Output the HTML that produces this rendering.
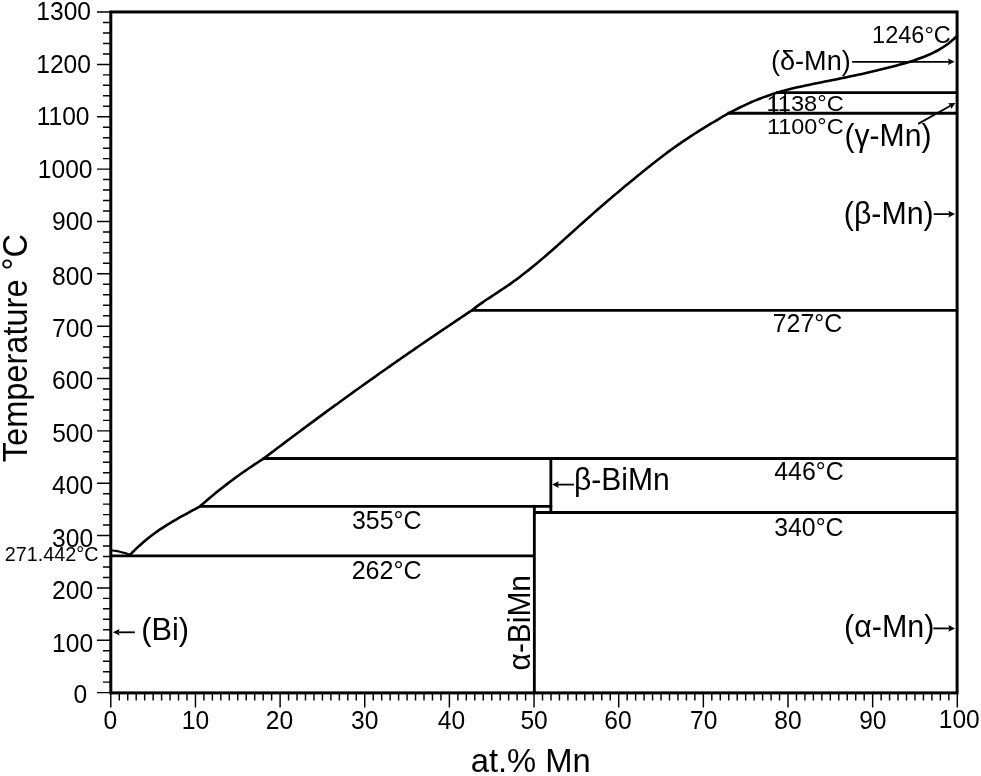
<!DOCTYPE html>
<html><head><meta charset="utf-8"><title>Bi-Mn phase diagram</title><style>
html,body{margin:0;padding:0;background:#fff;}
svg{display:block;}
text{font-family:'Liberation Sans',Arial,Helvetica,sans-serif;font-size:100px;fill:#000;}
</style></head><body>
<svg width="981" height="776" viewBox="0 0 981 776">
<rect width="981" height="776" fill="#fff"/>
<path d="M97,692.60H111 M103,682.13H111 M103,671.66H111 M103,661.19H111 M103,650.72H111 M97,640.25H111 M103,629.78H111 M103,619.31H111 M103,608.84H111 M103,598.37H111 M97,587.90H111 M103,577.43H111 M103,566.96H111 M103,556.49H111 M103,546.02H111 M97,535.55H111 M103,525.08H111 M103,514.61H111 M103,504.14H111 M103,493.67H111 M97,483.20H111 M103,472.73H111 M103,462.26H111 M103,451.79H111 M103,441.32H111 M97,430.85H111 M103,420.38H111 M103,409.91H111 M103,399.44H111 M103,388.97H111 M97,378.50H111 M103,368.03H111 M103,357.56H111 M103,347.09H111 M103,336.62H111 M97,326.15H111 M103,315.68H111 M103,305.21H111 M103,294.74H111 M103,284.27H111 M97,273.80H111 M103,263.33H111 M103,252.86H111 M103,242.39H111 M103,231.92H111 M97,221.45H111 M103,210.98H111 M103,200.51H111 M103,190.04H111 M103,179.57H111 M97,169.10H111 M103,158.63H111 M103,148.16H111 M103,137.69H111 M103,127.22H111 M97,116.75H111 M103,106.28H111 M103,95.81H111 M103,85.34H111 M103,74.87H111 M97,64.40H111 M103,53.93H111 M103,43.46H111 M103,32.99H111 M103,22.52H111 M97,12.05H111 M110.80,692V707.5 M119.27,692V700.6 M127.73,692V700.6 M136.19,692V700.6 M144.66,692V700.6 M153.12,692V700.6 M161.59,692V700.6 M170.06,692V700.6 M178.52,692V700.6 M186.99,692V700.6 M195.45,692V707.5 M203.91,692V700.6 M212.38,692V700.6 M220.84,692V700.6 M229.31,692V700.6 M237.77,692V700.6 M246.24,692V700.6 M254.70,692V700.6 M263.17,692V700.6 M271.63,692V700.6 M280.10,692V707.5 M288.56,692V700.6 M297.03,692V700.6 M305.50,692V700.6 M313.96,692V700.6 M322.43,692V700.6 M330.89,692V700.6 M339.36,692V700.6 M347.82,692V700.6 M356.29,692V700.6 M364.75,692V707.5 M373.22,692V700.6 M381.68,692V700.6 M390.15,692V700.6 M398.61,692V700.6 M407.07,692V700.6 M415.54,692V700.6 M424.00,692V700.6 M432.47,692V700.6 M440.94,692V700.6 M449.40,692V707.5 M457.87,692V700.6 M466.33,692V700.6 M474.80,692V700.6 M483.26,692V700.6 M491.73,692V700.6 M500.19,692V700.6 M508.66,692V700.6 M517.12,692V700.6 M525.59,692V700.6 M534.05,692V707.5 M542.51,692V700.6 M550.98,692V700.6 M559.44,692V700.6 M567.91,692V700.6 M576.38,692V700.6 M584.84,692V700.6 M593.30,692V700.6 M601.77,692V700.6 M610.24,692V700.6 M618.70,692V707.5 M627.16,692V700.6 M635.63,692V700.6 M644.09,692V700.6 M652.56,692V700.6 M661.02,692V700.6 M669.49,692V700.6 M677.95,692V700.6 M686.42,692V700.6 M694.88,692V700.6 M703.35,692V707.5 M711.81,692V700.6 M720.28,692V700.6 M728.75,692V700.6 M737.21,692V700.6 M745.67,692V700.6 M754.14,692V700.6 M762.60,692V700.6 M771.07,692V700.6 M779.53,692V700.6 M788.00,692V707.5 M796.46,692V700.6 M804.93,692V700.6 M813.39,692V700.6 M821.86,692V700.6 M830.32,692V700.6 M838.79,692V700.6 M847.25,692V700.6 M855.72,692V700.6 M864.18,692V700.6 M872.65,692V707.5 M881.12,692V700.6 M889.58,692V700.6 M898.04,692V700.6 M906.51,692V700.6 M914.97,692V700.6 M923.44,692V700.6 M931.90,692V700.6 M940.37,692V700.6 M948.83,692V700.6 M957.30,692V707.5" stroke="#000" stroke-width="1.45" fill="none"/>
<text transform="matrix(0.24600,0,0,0.25700,36.332,20.490)">1300</text>
<text transform="matrix(0.24600,0,0,0.25700,36.232,72.590)">1200</text>
<text transform="matrix(0.24600,0,0,0.25700,36.632,124.890)">1100</text>
<text transform="matrix(0.24600,0,0,0.25700,37.832,177.590)">1000</text>
<text transform="matrix(0.24600,0,0,0.25700,52.002,230.290)">900</text>
<text transform="matrix(0.24600,0,0,0.25700,52.102,285.190)">800</text>
<text transform="matrix(0.24600,0,0,0.25700,52.102,337.490)">700</text>
<text transform="matrix(0.24600,0,0,0.25700,52.102,389.390)">600</text>
<text transform="matrix(0.24600,0,0,0.25700,52.202,441.990)">500</text>
<text transform="matrix(0.24600,0,0,0.25700,52.102,494.090)">400</text>
<text transform="matrix(0.24600,0,0,0.25700,52.102,546.690)">300</text>
<text transform="matrix(0.24600,0,0,0.25700,52.102,599.090)">200</text>
<text transform="matrix(0.24600,0,0,0.25700,52.102,651.690)">100</text>
<text transform="matrix(0.24600,0,0,0.25700,73.462,703.490)">0</text>
<text transform="matrix(0.24600,0,0,0.25700,103.462,728.990)">0</text>
<text transform="matrix(0.24600,0,0,0.25700,181.855,728.990)">10</text>
<text transform="matrix(0.24600,0,0,0.25700,265.824,728.990)">20</text>
<text transform="matrix(0.24600,0,0,0.25700,351.097,728.990)">30</text>
<text transform="matrix(0.24600,0,0,0.25700,437.843,728.990)">40</text>
<text transform="matrix(0.24600,0,0,0.25700,520.397,728.990)">50</text>
<text transform="matrix(0.24600,0,0,0.25700,604.374,728.990)">60</text>
<text transform="matrix(0.24600,0,0,0.25700,690.024,728.990)">70</text>
<text transform="matrix(0.24600,0,0,0.25700,774.297,728.990)">80</text>
<text transform="matrix(0.24600,0,0,0.25700,859.174,728.990)">90</text>
<text transform="matrix(0.24600,0,0,0.25700,938.717,728.490)">100</text>
<rect x="110.8" y="11.95" width="846.3" height="680.95" stroke="#000" stroke-width="3.0" fill="none"/>
<path d="M129.30,555.65 C130.03,554.89 132.23,552.57 133.69,551.10 C135.16,549.64 136.62,548.23 138.09,546.86 C139.55,545.49 141.02,544.17 142.48,542.90 C143.95,541.62 145.41,540.39 146.88,539.20 C148.34,538.00 149.80,536.85 151.27,535.74 C152.73,534.62 154.20,533.54 155.66,532.49 C157.13,531.44 158.59,530.42 160.06,529.43 C161.52,528.44 162.99,527.48 164.45,526.54 C165.91,525.61 167.38,524.70 168.84,523.80 C170.31,522.91 171.77,522.04 173.24,521.18 C174.70,520.32 176.17,519.48 177.63,518.65 C179.10,517.82 180.56,517.01 182.03,516.20 C183.49,515.39 184.95,514.59 186.42,513.79 C187.88,513.00 189.35,512.21 190.81,511.42 C192.28,510.62 193.74,509.84 195.21,509.04 C196.67,508.25 198.87,507.05 199.60,506.65 M199.60,506.65 C200.36,505.99 202.63,503.99 204.15,502.69 C205.67,501.38 207.18,500.09 208.70,498.81 C210.22,497.53 211.73,496.27 213.25,495.02 C214.77,493.77 216.28,492.53 217.80,491.31 C219.32,490.09 220.83,488.88 222.35,487.68 C223.87,486.49 225.38,485.31 226.90,484.15 C228.42,482.98 229.93,481.83 231.45,480.69 C232.97,479.55 234.48,478.43 236.00,477.32 C237.52,476.21 239.03,475.11 240.55,474.03 C242.07,472.95 243.58,471.88 245.10,470.83 C246.62,469.77 248.13,468.73 249.65,467.71 C251.17,466.68 252.68,465.67 254.20,464.67 C255.72,463.68 257.23,462.69 258.75,461.72 C260.27,460.75 262.54,459.33 263.30,458.85 M263.30,458.85 C263.98,458.33 266.02,456.77 267.38,455.74 C268.74,454.70 270.10,453.67 271.46,452.64 C272.82,451.61 274.18,450.58 275.54,449.55 C276.89,448.52 278.25,447.49 279.61,446.47 C280.97,445.44 282.33,444.42 283.69,443.39 C285.05,442.37 286.41,441.35 287.77,440.33 C289.13,439.31 290.49,438.29 291.85,437.27 C293.21,436.25 294.57,435.24 295.93,434.22 C297.29,433.21 298.65,432.19 300.01,431.18 C301.37,430.17 302.72,429.16 304.08,428.15 C305.44,427.14 306.80,426.13 308.16,425.12 C309.52,424.12 310.88,423.11 312.24,422.11 C313.60,421.10 314.96,420.10 316.32,419.10 C317.68,418.10 319.04,417.10 320.40,416.10 C321.76,415.10 323.12,414.10 324.48,413.11 C325.84,412.11 327.20,411.12 328.55,410.12 C329.91,409.13 331.27,408.14 332.63,407.15 C333.99,406.15 335.35,405.17 336.71,404.18 C338.07,403.19 339.43,402.20 340.79,401.22 C342.15,400.23 343.51,399.25 344.87,398.26 C346.23,397.28 347.59,396.30 348.95,395.32 C350.31,394.34 351.67,393.36 353.03,392.38 C354.38,391.41 355.74,390.43 357.10,389.46 C358.46,388.48 359.82,387.51 361.18,386.54 C362.54,385.56 363.90,384.59 365.26,383.62 C366.62,382.66 367.98,381.69 369.34,380.72 C370.70,379.75 372.06,378.79 373.42,377.83 C374.78,376.86 376.14,375.90 377.50,374.94 C378.86,373.98 380.22,373.02 381.57,372.06 C382.93,371.10 384.29,370.14 385.65,369.19 C387.01,368.23 388.37,367.28 389.73,366.32 C391.09,365.37 392.45,364.42 393.81,363.47 C395.17,362.52 396.53,361.57 397.89,360.62 C399.25,359.67 400.61,358.73 401.97,357.78 C403.33,356.84 404.69,355.89 406.05,354.95 C407.40,354.01 408.76,353.07 410.12,352.13 C411.48,351.19 412.84,350.25 414.20,349.31 C415.56,348.38 416.92,347.44 418.28,346.51 C419.64,345.57 421.00,344.64 422.36,343.71 C423.72,342.77 425.08,341.84 426.44,340.92 C427.80,339.99 429.16,339.06 430.52,338.13 C431.88,337.21 433.23,336.28 434.59,335.36 C435.95,334.43 437.31,333.51 438.67,332.59 C440.03,331.67 441.39,330.75 442.75,329.83 C444.11,328.91 445.47,328.00 446.83,327.08 C448.19,326.17 449.55,325.25 450.91,324.34 C452.27,323.43 453.63,322.52 454.99,321.61 C456.35,320.70 457.71,319.79 459.06,318.88 C460.42,317.97 461.78,317.07 463.14,316.16 C464.50,315.26 465.86,314.35 467.22,313.45 C468.58,312.55 470.62,311.20 471.30,310.75 M471.30,310.75 C471.98,310.23 474.01,308.64 475.37,307.62 C476.72,306.60 478.08,305.61 479.43,304.64 C480.79,303.67 482.14,302.72 483.50,301.78 C484.86,300.84 486.21,299.92 487.57,299.01 C488.92,298.10 490.28,297.20 491.63,296.30 C492.99,295.41 494.34,294.52 495.70,293.63 C497.06,292.74 498.41,291.85 499.77,290.96 C501.12,290.06 502.48,289.17 503.83,288.26 C505.19,287.35 506.54,286.43 507.90,285.50 C509.26,284.57 510.61,283.62 511.97,282.66 C513.32,281.70 514.68,280.72 516.03,279.73 C517.39,278.73 518.74,277.72 520.10,276.70 C521.46,275.67 522.81,274.63 524.17,273.58 C525.52,272.53 526.88,271.46 528.23,270.39 C529.59,269.31 530.94,268.21 532.30,267.11 C533.66,266.01 535.01,264.89 536.37,263.77 C537.72,262.64 539.08,261.50 540.43,260.35 C541.79,259.21 543.14,258.05 544.50,256.88 C545.86,255.71 547.21,254.53 548.57,253.35 C549.92,252.17 551.28,250.97 552.63,249.77 C553.99,248.58 555.34,247.37 556.70,246.16 C558.06,244.95 559.41,243.73 560.77,242.52 C562.12,241.30 563.48,240.08 564.83,238.85 C566.19,237.63 567.54,236.40 568.90,235.18 C570.26,233.95 571.61,232.73 572.97,231.51 C574.32,230.28 575.68,229.06 577.03,227.84 C578.39,226.62 579.74,225.40 581.10,224.19 C582.46,222.98 583.81,221.77 585.17,220.57 C586.52,219.36 587.88,218.16 589.23,216.97 C590.59,215.77 591.94,214.58 593.30,213.39 C594.66,212.20 596.01,211.02 597.37,209.84 C598.72,208.66 600.08,207.48 601.43,206.31 C602.79,205.13 604.14,203.97 605.50,202.80 C606.86,201.64 608.21,200.48 609.57,199.32 C610.92,198.16 612.28,197.01 613.63,195.86 C614.99,194.71 616.34,193.56 617.70,192.42 C619.06,191.28 620.41,190.14 621.77,189.01 C623.12,187.87 624.48,186.74 625.83,185.61 C627.19,184.48 628.54,183.36 629.90,182.24 C631.26,181.12 632.61,180.00 633.97,178.89 C635.32,177.78 636.68,176.67 638.03,175.56 C639.39,174.46 640.74,173.36 642.10,172.26 C643.46,171.16 644.81,170.06 646.17,168.98 C647.52,167.89 648.88,166.80 650.23,165.72 C651.59,164.65 652.94,163.57 654.30,162.51 C655.66,161.45 657.01,160.39 658.37,159.34 C659.72,158.29 661.08,157.25 662.43,156.22 C663.79,155.18 665.14,154.16 666.50,153.15 C667.86,152.14 669.21,151.13 670.57,150.14 C671.92,149.15 673.28,148.17 674.63,147.21 C675.99,146.24 677.34,145.28 678.70,144.34 C680.06,143.40 681.41,142.47 682.77,141.54 C684.12,140.62 685.48,139.71 686.83,138.81 C688.19,137.91 689.54,137.02 690.90,136.14 C692.26,135.26 693.61,134.39 694.97,133.52 C696.32,132.66 697.68,131.80 699.03,130.95 C700.39,130.10 701.74,129.26 703.10,128.42 C704.46,127.59 705.81,126.76 707.17,125.93 C708.52,125.11 709.88,124.29 711.23,123.47 C712.59,122.66 713.94,121.85 715.30,121.04 C716.66,120.23 718.01,119.43 719.37,118.63 C720.72,117.83 722.08,117.04 723.43,116.24 C724.79,115.44 726.82,114.25 727.50,113.85 M727.50,113.85 C728.18,113.49 730.24,112.42 731.61,111.71 C732.98,111.00 734.35,110.29 735.72,109.60 C737.09,108.90 738.46,108.21 739.83,107.54 C741.20,106.87 742.57,106.20 743.94,105.55 C745.31,104.90 746.68,104.26 748.04,103.64 C749.41,103.02 750.78,102.41 752.15,101.81 C753.52,101.22 754.89,100.64 756.26,100.08 C757.63,99.51 759.00,98.96 760.37,98.43 C761.74,97.90 763.11,97.38 764.48,96.88 C765.85,96.38 767.22,95.89 768.59,95.42 C769.96,94.95 771.33,94.49 772.70,94.05 C774.07,93.60 775.44,93.18 776.81,92.76 C778.18,92.34 779.55,91.94 780.92,91.55 C782.29,91.15 783.66,90.77 785.02,90.41 C786.39,90.04 787.76,89.68 789.13,89.33 C790.50,88.98 791.87,88.64 793.24,88.31 C794.61,87.98 795.98,87.66 797.35,87.34 C798.72,87.02 800.09,86.72 801.46,86.41 C802.83,86.11 804.20,85.81 805.57,85.52 C806.94,85.23 808.31,84.94 809.68,84.66 C811.05,84.37 812.42,84.09 813.79,83.82 C815.16,83.54 816.53,83.26 817.90,82.99 C819.27,82.71 820.64,82.44 822.01,82.17 C823.38,81.90 824.74,81.63 826.11,81.35 C827.48,81.08 828.85,80.81 830.22,80.54 C831.59,80.27 832.96,80.00 834.33,79.72 C835.70,79.45 837.07,79.17 838.44,78.89 C839.81,78.62 841.18,78.34 842.55,78.06 C843.92,77.78 845.29,77.49 846.66,77.21 C848.03,76.92 849.40,76.63 850.77,76.34 C852.14,76.05 853.51,75.76 854.88,75.46 C856.25,75.17 857.62,74.87 858.99,74.57 C860.36,74.27 861.73,73.96 863.09,73.66 C864.46,73.35 865.83,73.04 867.20,72.73 C868.57,72.42 869.94,72.10 871.31,71.78 C872.68,71.46 874.05,71.14 875.42,70.82 C876.79,70.49 878.16,70.17 879.53,69.83 C880.90,69.50 882.27,69.17 883.64,68.83 C885.01,68.49 886.38,68.15 887.75,67.81 C889.12,67.46 890.49,67.11 891.86,66.75 C893.23,66.40 894.60,66.04 895.97,65.67 C897.34,65.31 898.71,64.93 900.08,64.55 C901.44,64.18 902.81,63.79 904.18,63.39 C905.55,63.00 906.92,62.59 908.29,62.18 C909.66,61.76 911.03,61.34 912.40,60.90 C913.77,60.46 915.14,60.01 916.51,59.54 C917.88,59.07 919.25,58.58 920.62,58.08 C921.99,57.57 923.36,57.05 924.73,56.50 C926.10,55.94 927.47,55.37 928.84,54.77 C930.21,54.16 931.58,53.53 932.95,52.87 C934.32,52.20 935.69,51.50 937.06,50.75 C938.42,50.01 939.79,49.23 941.16,48.39 C942.53,47.55 943.90,46.68 945.27,45.73 C946.64,44.79 948.01,43.80 949.38,42.73 C950.75,41.66 952.12,40.53 953.49,39.32 C954.86,38.10 956.92,36.08 957.60,35.44" stroke="#000" stroke-width="2.6" fill="none" stroke-linejoin="round"/>
<path d="M111.00,550.50 C111.83,550.57 114.50,550.68 116.00,550.90 C117.50,551.12 118.67,551.48 120.00,551.80 C121.33,552.12 122.67,552.43 124.00,552.80 C125.33,553.17 127.00,553.63 128.00,554.00 C129.00,554.37 129.67,554.83 130.00,555.00" stroke="#000" stroke-width="2.1" fill="none"/>
<line x1="776" y1="92.6" x2="957" y2="92.6" stroke="#000" stroke-width="2.85"/>
<line x1="727.3" y1="113.25" x2="957" y2="113.25" stroke="#000" stroke-width="2.85"/>
<line x1="471.3" y1="310.4" x2="957" y2="310.4" stroke="#000" stroke-width="2.85"/>
<line x1="262.5" y1="458.5" x2="957" y2="458.5" stroke="#000" stroke-width="2.85"/>
<line x1="199.6" y1="506.4" x2="552.2" y2="506.4" stroke="#000" stroke-width="2.85"/>
<line x1="534.35" y1="512.45" x2="957" y2="512.45" stroke="#000" stroke-width="2.85"/>
<line x1="111" y1="555.9" x2="534.35" y2="555.9" stroke="#000" stroke-width="2.85"/>
<line x1="550.85" y1="457.2" x2="550.85" y2="513.8" stroke="#000" stroke-width="2.85"/>
<line x1="534.35" y1="504.9" x2="534.35" y2="693" stroke="#000" stroke-width="2.85"/>
<line x1="852.1" y1="61.8" x2="948.90" y2="61.80" stroke="#000" stroke-width="1.8"/>
<path d="M954.60,61.80 L948.00,65.10 L948.90,61.80 L948.00,58.50 Z" fill="#000"/>
<line x1="918.1" y1="123.9" x2="950.43" y2="105.79" stroke="#000" stroke-width="1.8"/>
<path d="M955.40,103.00 L951.26,109.11 L950.43,105.79 L948.03,103.35 Z" fill="#000"/>
<line x1="933.7" y1="214.1" x2="949.30" y2="214.10" stroke="#000" stroke-width="1.8"/>
<path d="M955.00,214.10 L948.40,217.40 L949.30,214.10 L948.40,210.80 Z" fill="#000"/>
<line x1="933.3" y1="628.4" x2="949.30" y2="628.40" stroke="#000" stroke-width="1.8"/>
<path d="M955.00,628.40 L948.40,631.70 L949.30,628.40 L948.40,625.10 Z" fill="#000"/>
<line x1="134.9" y1="632.3" x2="118.60" y2="632.30" stroke="#000" stroke-width="1.8"/>
<path d="M112.90,632.30 L119.50,629.00 L118.60,632.30 L119.50,635.60 Z" fill="#000"/>
<line x1="573.9" y1="484.6" x2="557.90" y2="484.60" stroke="#000" stroke-width="1.8"/>
<path d="M552.20,484.60 L558.80,481.30 L557.90,484.60 L558.80,487.90 Z" fill="#000"/>
<text transform="matrix(0.23509,0,0,0.23592,872.119,42.514)">1246°C</text>
<text transform="matrix(0.23587,0,0,0.21972,766.513,110.780)">1138°C</text>
<line x1="773.9" y1="93.5" x2="773.9" y2="112.5" stroke="#000" stroke-width="1.9"/>
<line x1="785.1" y1="93.5" x2="785.1" y2="112.5" stroke="#000" stroke-width="1.9"/>
<text transform="matrix(0.23429,0,0,0.22535,767.026,133.775)">1100°C</text>
<text transform="matrix(0.24963,0,0,0.25352,772.652,331.846)">727°C</text>
<text transform="matrix(0.24835,0,0,0.25634,774.303,479.744)">446°C</text>
<text transform="matrix(0.24871,0,0,0.26197,774.205,535.838)">340°C</text>
<text transform="matrix(0.24945,0,0,0.25915,351.902,528.741)">355°C</text>
<text transform="matrix(0.25037,0,0,0.26197,351.648,578.538)">262°C</text>
<text transform="matrix(0.19784,0,0,0.19437,4.811,560.506)">271.442°C</text>
<text transform="matrix(0.27092,0,0,0.28478,770.974,69.800)">(δ-Mn)</text>
<text transform="matrix(0.30108,0,0,0.31594,844.494,145.700)">(γ-Mn)</text>
<text transform="matrix(0.30317,0,0,0.31884,843.781,223.900)">(β-Mn)</text>
<text transform="matrix(0.30423,0,0,0.31449,844.075,636.700)">(α-Mn)</text>
<text transform="matrix(0.30769,0,0,0.31304,141.254,639.600)">(Bi)</text>
<text transform="matrix(0.30066,0,0,0.31014,573.995,489.600)">β-BiMn</text>
<text transform="matrix(0.32753,0,0,0.33768,470.690,772.100)">at.% Mn</text>
<text transform="matrix(0,-0.29903,0.30870,0,529.600,670.396)">α-BiMn</text>
<text transform="matrix(0,-0.32561,0.34783,0,27.100,462.251)">Temperature °C</text>
</svg>
</body></html>
